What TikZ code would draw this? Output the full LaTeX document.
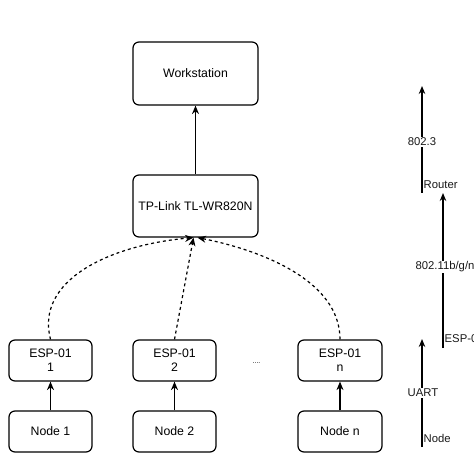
\documentclass[tikz,border=0pt]{standalone}
\usepackage{fontspec}
\setmainfont{Liberation Sans}
\usetikzlibrary{arrows.meta}
\begin{document}
\begin{tikzpicture}[x=1bp,y=-1bp,
  box/.style={draw, line width=1.2bp, rounded corners=6bp, align=center, inner sep=0pt, font=\fontsize{12.3bp}{14bp}\selectfont},
  solidarrow/.style={line width=1.3bp, -{Stealth[length=8.5bp,width=7bp]}},
  dasharrow/.style={line width=1.2bp, dash pattern=on 3bp off 3bp, -{Stealth[length=8.5bp,width=7bp]}},
  leg/.style={font=\fontsize{11.3bp}{13bp}\selectfont, text=black!90, inner sep=1bp},
  legline/.style={line width=1.2bp, -{Stealth[length=8bp,width=6.5bp]}}
]
\useasboundingbox[fill=white] (0,0) rectangle (474,474);

% main boxes
\node[box, minimum width=125bp, minimum height=63bp] (ws) at (195.5,73.5) {Workstation};
\node[box, minimum width=125bp, minimum height=62bp] (tp) at (195.5,206) {TP-Link TL-WR820N};

\node[box, minimum width=83bp, minimum height=41bp] (e1) at (50.5,360.5) {ESP-01\\1};
\node[box, minimum width=83bp, minimum height=41bp] (e2) at (174.5,360.5) {ESP-01\\2};
\node[box, minimum width=84bp, minimum height=41bp] (en) at (340,360.5) {ESP-01\\n};

\node[box, minimum width=83bp, minimum height=41bp] (n1) at (50.5,431.5) {Node 1};
\node[box, minimum width=83bp, minimum height=41bp] (n2) at (174.5,431.5) {Node 2};
\node[box, minimum width=84bp, minimum height=41bp] (nn) at (340,431.5) {Node n};

\node[font=\fontsize{7bp}{8bp}\selectfont, inner sep=0pt] (dots) at (256.5,363) {....};

% connectors
\draw[solidarrow] (tp.north) -- (ws.south);
\draw[solidarrow] (n1.north) -- (e1.south);
\draw[solidarrow] (n2.north) -- (e2.south);
\draw[solidarrow] (nn.north) -- (en.south);

\draw[dasharrow] (e1.north) .. controls (35,280) and (110,245) .. ([xshift=-2bp]tp.south);
\draw[dasharrow] (e2.north) -- ([xshift=-2bp]tp.south);
\draw[dasharrow] (en.north) .. controls (340,280) and (260,250) .. ([xshift=2bp]tp.south);

% legend
\coordinate (l1b) at (422,193);
\coordinate (l1t) at (422,86);
\draw[legline] (l1b) -- (l1t);
\node[leg, fill=white] (l1lab) at (422,142) {802.3};
\node[leg, anchor=west] (l1end) at (422.5,185) {Router};

\coordinate (l2b) at (443,348);
\coordinate (l2t) at (443,193);
\draw[legline] (l2b) -- (l2t);
\node[leg, fill=white] (l2lab) at (445,267) {802.11b/g/n};
\node[leg, anchor=west] (l2end) at (443.5,339) {ESP-01};

\coordinate (l3b) at (422,447);
\coordinate (l3t) at (422,339);
\draw[legline] (l3b) -- (l3t);
\node[leg, fill=white] (l3lab) at (423,393) {UART};
\node[leg, anchor=west] (l3end) at (422.5,438) {Node};
\end{tikzpicture}
\end{document}
